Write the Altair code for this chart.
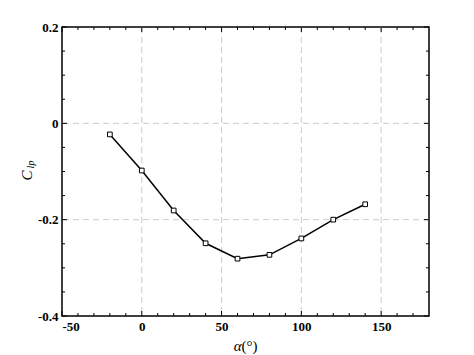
import altair as alt
import pandas as pd

alpha = [-20, 0, 20, 40, 60, 80, 100, 120, 140]
clp = [-0.023, -0.098, -0.181, -0.249, -0.281, -0.273, -0.239, -0.200, -0.168]

x_major = [-50, 0, 50, 100, 150]
x_minor = [v for v in range(-40, 180, 10) if v % 50 != 0]
y_major = [-0.4, -0.2, 0.0, 0.2]
y_minor = [-0.35, -0.3, -0.25, -0.15, -0.1, -0.05, 0.05, 0.1, 0.15]
x_grid = [0, 50, 100, 150]
y_grid = [-0.2, 0.0]

W, H = 367, 289
xs = alt.Scale(domain=[-50, 180], nice=False, zero=False)
ys = alt.Scale(domain=[-0.4, 0.2], nice=False, zero=False)

df = pd.DataFrame({"a": alpha, "c": clp})

LBL = dict(labelFont="Liberation Serif", labelFontWeight="bold", labelFontSize=13,
           labelColor="#000000", labelPadding=4, ticks=False, domain=False, grid=False,
           labelExpr="toString(datum.value)", title=None)
axis_x = alt.Axis(values=x_major, **LBL)
axis_y = alt.Axis(values=y_major, **LBL)


def X(field):
    return alt.X(field, type="quantitative", scale=xs, axis=axis_x)


def Y(field):
    return alt.Y(field, type="quantitative", scale=ys, axis=axis_y)


gx = alt.Chart(pd.DataFrame({"v": x_grid})).mark_rule(
    color="#cccccc", strokeDash=[6, 4], strokeWidth=1).encode(x=X("v"))
gy = alt.Chart(pd.DataFrame({"v": y_grid})).mark_rule(
    color="#cccccc", strokeDash=[6, 4], strokeWidth=1).encode(y=Y("v"))


def xticks(vals, length):
    d = pd.DataFrame({"v": vals})
    b = alt.Chart(d).mark_rule(color="black", strokeWidth=1).encode(
        x=X("v"), y=alt.value(H), y2=alt.value(H - length))
    t = alt.Chart(d).mark_rule(color="black", strokeWidth=1).encode(
        x=X("v"), y=alt.value(0), y2=alt.value(length))
    return [b, t]


def yticks(vals, length):
    d = pd.DataFrame({"v": vals})
    l = alt.Chart(d).mark_rule(color="black", strokeWidth=1).encode(
        y=Y("v"), x=alt.value(0), x2=alt.value(length))
    r = alt.Chart(d).mark_rule(color="black", strokeWidth=1).encode(
        y=Y("v"), x=alt.value(W), x2=alt.value(W - length))
    return [l, r]


ticks = xticks(x_major, 5) + xticks(x_minor, 3) + yticks(y_major, 5) + yticks(y_minor, 3)

line = alt.Chart(df).mark_line(color="black", strokeWidth=1.5).encode(x=X("a"), y=Y("c"))
pts = alt.Chart(df).mark_point(shape="square", size=22, filled=True, fill="white",
                               stroke="black", strokeWidth=1, opacity=1).encode(
    x=X("a"), y=Y("c"))

tdf = pd.DataFrame({"t": [0]})
xt1 = alt.Chart(tdf).mark_text(text="α", font="Liberation Serif", fontStyle="italic",
                               fontSize=15, align="right", baseline="middle", color="black").encode(
    x=alt.value(W / 2 - 4), y=alt.value(H + 30))
xt2 = alt.Chart(tdf).mark_text(text="(°)", font="Liberation Serif",
                               fontSize=15, align="left", baseline="middle", color="black").encode(
    x=alt.value(W / 2 - 4), y=alt.value(H + 30))
yt1 = alt.Chart(tdf).mark_text(text="C", font="Liberation Serif", fontStyle="italic",
                               fontSize=15, angle=270, align="center", baseline="middle", color="black").encode(
    x=alt.value(-35), y=alt.value(H / 2 + 4))
yt2 = alt.Chart(tdf).mark_text(text="lp", font="Liberation Serif", fontStyle="italic",
                               fontSize=10, angle=270, align="center", baseline="middle", color="black").encode(
    x=alt.value(-31), y=alt.value(H / 2 - 7))

chart = alt.layer(gx, gy, *ticks, line, pts, xt1, xt2, yt1, yt2).properties(
    width=W, height=H,
    autosize=alt.AutoSizeParams(type="none"),
    padding={"left": 62, "top": 27, "right": 474 - 62 - W, "bottom": 355 - 27 - H},
    background="white",
).configure_view(stroke="black", strokeWidth=1.5)

chart.save("out.html", embed_options={"renderer": "svg", "actions": False})
